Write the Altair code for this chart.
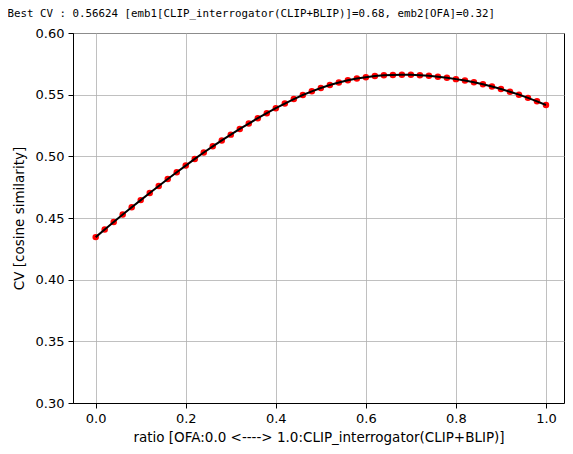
import altair as alt
import pandas as pd

ratio = [round(i * 0.02, 2) for i in range(51)]
cv = [0.4345, 0.4407, 0.4468, 0.4528, 0.4587, 0.4645, 0.4703, 0.4760, 0.4816, 0.4871,
      0.4925, 0.4979, 0.5031, 0.5081, 0.5129, 0.5176, 0.5222, 0.5266, 0.5309, 0.5350,
      0.5390, 0.5428, 0.5464, 0.5497, 0.5527, 0.5554, 0.5578, 0.5599, 0.5617, 0.5631,
      0.5642, 0.5651, 0.5657, 0.5660, 0.56624, 0.5661, 0.5658, 0.5653, 0.5646, 0.5637,
      0.5626, 0.5614, 0.5600, 0.5584, 0.5566, 0.5546, 0.5524, 0.5500, 0.5474, 0.5446,
      0.5416]
x_ticks = [0.0, 0.2, 0.4, 0.6, 0.8, 1.0]
y_ticks = [0.30, 0.35, 0.40, 0.45, 0.50, 0.55, 0.60]
title_text = "Best CV : 0.56624 [emb1[CLIP_interrogator(CLIP+BLIP)]=0.68, emb2[OFA]=0.32]"

df = pd.DataFrame({"ratio": ratio, "cv": cv})

x_enc = alt.X("ratio:Q",
              scale=alt.Scale(domain=[-0.0504, 1.040], nice=False, zero=False),
              axis=alt.Axis(values=x_ticks, format=".1f",
                            title="ratio [OFA:0.0 <----> 1.0:CLIP_interrogator(CLIP+BLIP)]"))
y_enc = alt.Y("cv:Q",
              scale=alt.Scale(domain=[0.30, 0.60], nice=False, zero=False),
              axis=alt.Axis(values=y_ticks, format=".2f", title="CV [cosine similarity]"))

base = alt.Chart(df).encode(x=x_enc, y=y_enc)
points = base.mark_point(filled=True, shape="circle", size=42, color="#ff0000", opacity=1)
line = base.mark_line(color="black", strokeWidth=2)

chart = alt.layer(points, line).properties(
    width=491, height=370,
    autosize=alt.AutoSizeParams(type="none"),
    padding={"left": 65, "top": 25, "right": 1, "bottom": 42},
    title=alt.TitleParams(title_text, anchor="start", frame="group",
                          font="DejaVu Sans Mono", fontSize=10.8, fontWeight="normal",
                          color="black", dx=-65.4, dy=8.5, offset=8, baseline="alphabetic"),
).configure_view(
    stroke="black", strokeWidth=1
).configure_axis(
    grid=True, gridColor="#b0b0b0", gridWidth=0.8, gridOpacity=1,
    domain=True, domainColor="black", domainWidth=1,
    ticks=True, tickColor="black", tickSize=5, tickWidth=1,
    labelFont="DejaVu Sans", labelFontSize=13, labelColor="black", labelPadding=4,
    titleFont="DejaVu Sans", titleFontSize=13.5, titleFontWeight="normal", titleColor="black",
    labelFlush=False, labelOverlap=False
).configure_axisY(titlePadding=9).configure_axisX(titlePadding=5)

chart.save("out.html", embed_options={"renderer": "svg", "actions": False})
